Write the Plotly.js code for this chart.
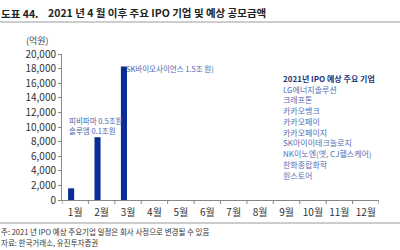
<!DOCTYPE html>
<html><head><meta charset="utf-8">
<script src="https://cdn.plot.ly/plotly-3.0.1.min.js"></script>
<style>html,body{margin:0;padding:0;background:#fff}#c{width:400px;height:250px}</style>
</head><body><div id="c"></div>
<script>
var months = ['1월','2월','3월','4월','5월','6월','7월','8월','9월','10월','11월','12월'];
var amounts = [1600, 8600, 18300, null, null, null, null, null, null, null, null, null];
var yTicks = [0,2000,4000,6000,8000,10000,12000,14000,16000,18000,20000];
var yTickText = ['0','2,000','4,000','6,000','8,000','10,000','12,000','14,000','16,000','18,000','20,000'];
var legendTitle = '2021년 IPO 예상 주요 기업';
var companies = ['LG에너지솔루션','크래프톤','카카오뱅크','카카오페이','카카오페이지','SK아이이테크놀로지','NK이노엔(옛, CJ헬스케어)','한화종합화학','원스토어'];
var barNotes = [
  {month: 1, value: 10900, text: '피비파마 0.5조원'},
  {month: 1, value: 9550, text: '솔루엠 0.1조원'},
  {month: 2, value: 18000, text: 'SK바이오사이언스 1.5조 원)'}
];

var F = '"Noto Sans CJK KR", "Noto Sans", sans-serif';
var L = 62, R = 379, T = 54, B = 200;
function px(x){ return (x - L) / (R - L); }
function py(y){ return (B - y) / (B - T); }

var ann = [];
ann.push({xref:'paper', yref:'paper', x:px(25), y:py(40), xanchor:'left', yanchor:'middle', text:'(억원)', showarrow:false, borderpad:0, font:{family:F, size:9, color:'#444'}});
ann.push({xref:'paper', yref:'paper', x:px(0), y:py(13), xanchor:'left', yanchor:'middle', text:'<b>도표 44.</b>', showarrow:false, borderpad:0, font:{family:F, size:10.5, color:'#222'}});
barNotes.forEach(function(n, i){
  ann.push({x: i < 2 ? n.month - 1.27 : n.month - 0.12, y: n.value, xref:'x', yref:'y', xanchor:'left', yanchor:'middle', text:n.text, showarrow:false, borderpad:0, font:{family:F, size:7.5, color:'#4a68b0'}});
});
ann.push({xref:'paper', yref:'paper', x:px(282), y:py(78), xanchor:'left', yanchor:'middle', text:'<b>'+legendTitle+'</b>', showarrow:false, borderpad:0, font:{family:F, size:8, color:'#1f3577'}});
companies.forEach(function(c, i){
  ann.push({xref:'paper', yref:'paper', x:px(282), y:py(89 + i*10.75), xanchor:'left', yanchor:'middle', text:c, showarrow:false, borderpad:0, font:{family:F, size:8, color:'#5570b8'}});
});
ann.push({xref:'paper', yref:'paper', x:px(0), y:py(231), xanchor:'left', yanchor:'middle', text:'주: 2021 년 IPO 예상 주요기업 일정은 회사 사정으로 변경될 수 있음', showarrow:false, borderpad:0, font:{family:F, size:7.5, color:'#333'}});
ann.push({xref:'paper', yref:'paper', x:px(0), y:py(242), xanchor:'left', yanchor:'middle', text:'자료: 한국거래소, 유진투자증권', showarrow:false, borderpad:0, font:{family:F, size:7.5, color:'#333'}});

var shapes = [
  {type:'line', xref:'paper', yref:'paper', x0:px(0), x1:px(400), y0:py(22), y1:py(22), line:{color:'#9a9a9a', width:1}},
  {type:'line', xref:'paper', yref:'paper', x0:px(0), x1:px(400), y0:py(223), y1:py(223), line:{color:'#9a9a9a', width:1}}
];

var trace = {
  type:'bar', x: months.map(function(_, i){ return i; }), y: amounts,
  width: 0.23, offset: -0.27,
  marker:{color:'#0b2c94', line:{width:0}},
  hoverinfo:'skip'
};

var layout = {
  width:400, height:250,
  margin:{l:L, r:400-R, t:T, b:250-B},
  paper_bgcolor:'#fff', plot_bgcolor:'#fff',
  showlegend:false,
  title:{text:'<b>2021 년 4 월 이후 주요 IPO 기업 및 예상 공모금액</b>', xref:'container', yref:'container', x:48/400, xanchor:'left', y:1-13/250, yanchor:'middle', font:{family:F, size:10.5, color:'#222'}},
  xaxis:{
    type:'linear', range:[-0.5, 11.5], tickmode:'array',
    tickvals: months.map(function(_, i){ return i; }), ticktext: months,
    ticks:'', showline:true, linecolor:'#888', linewidth:1, ticklabelstandoff:3,
    showgrid:false, zeroline:false, fixedrange:true,
    tickfont:{family:F, size:10, color:'#333'}
  },
  yaxis:{
    range:[0, 20000], tickmode:'array', tickvals:yTicks, ticktext:yTickText,
    ticks:'outside', ticklen:3, tickcolor:'#888',
    showline:true, linecolor:'#888', linewidth:1,
    showgrid:false, zeroline:false, fixedrange:true,
    tickfont:{family:F, size:10, color:'#333'}
  },
  annotations: ann,
  shapes: shapes.concat(months.map(function(_, i){
    return {type:'line', xref:'x', yref:'paper', x0:i-0.5, x1:i-0.5, y0:0, y1:-4/146, line:{color:'#888', width:1}};
  })).concat([{type:'line', xref:'x', yref:'paper', x0:11.5, x1:11.5, y0:0, y1:-4/146, line:{color:'#888', width:1}}])
};

Plotly.newPlot('c', [trace], layout, {displayModeBar:false, staticPlot:true});
</script></body></html>
